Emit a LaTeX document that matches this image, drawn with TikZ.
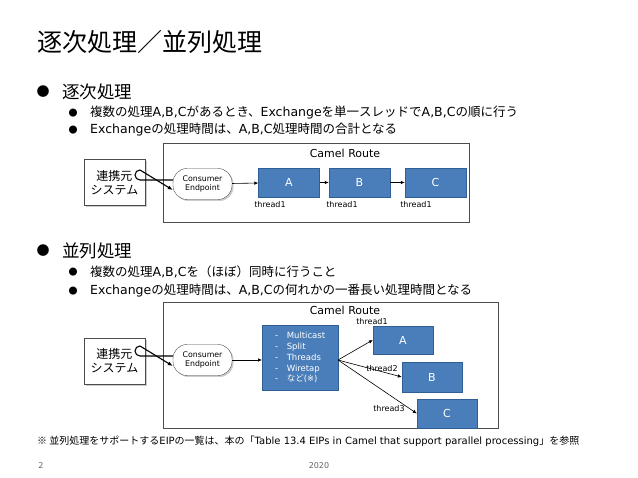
\documentclass[tikz,border=0pt]{standalone}
\usepackage{fontspec}
\setmainfont{DejaVu Sans}
\newfontfamily\jp{Noto Sans CJK JP}
\usetikzlibrary{arrows.meta,shadows}
\definecolor{bl}{HTML}{4A7EBB}
\definecolor{bld}{HTML}{2F5F95}
\begin{document}
\begin{tikzpicture}[x=1pt,y=-1pt,
 route/.style={draw=black!70,fill=white,line width=0.6pt},
 sys/.style={draw=black!70,fill=white,minimum width=61pt,minimum height=46pt,drop shadow={shadow xshift=2pt,shadow yshift=-2pt,opacity=0.4},align=center,font=\jp\fontsize{12}{14}\selectfont,inner sep=0pt},
 ep/.style={draw=black!70,fill=white,rounded corners=14pt,minimum width=59pt,minimum height=31pt,align=center,font=\fontsize{7.8}{9}\selectfont,inner sep=0pt,drop shadow={shadow xshift=1.5pt,shadow yshift=-1.5pt,opacity=0.4}},
 proc/.style={draw=bld,fill=bl,text=white,minimum width=61pt,minimum height=29pt,font=\fontsize{11}{13}\selectfont,inner sep=0pt},
 lbl/.style={font=\fontsize{8}{10}\selectfont,inner sep=0pt},
 arr/.style={-{Latex[length=4pt,width=3.5pt]},line width=0.6pt},
 bul/.style={font=\jp\fontsize{9}{9}\selectfont,inner sep=0pt},
 t1/.style={anchor=west,font=\jp\fontsize{17.5}{20}\selectfont,inner sep=0pt},
 t2/.style={anchor=west,font=\fontsize{12.5}{14}\selectfont,inner sep=0pt}]
\useasboundingbox[fill=white] (0,0) rectangle (638,478);
\node[anchor=west,font=\jp\fontsize{25}{28}\selectfont,inner sep=0pt] (title) at (37,42) {逐次処理／並列処理};
% section 1
\node[bul,font=\jp\fontsize{13}{13}\selectfont] (b1) at (43,92) {●};
\node[t1] (s1) at (62,92) {逐次処理};
\node[bul] (b11) at (73,113) {●};
\node[t2] (s11) at (90,113) {{\jp 複数の処理}A,B,C{\jp があるとき、}Exchange{\jp を単一スレッドで}A,B,C{\jp の順に行う}};
\node[bul] (b12) at (73,130) {●};
\node[t2] (s12) at (90,130) {Exchange{\jp の処理時間は、}A,B,C{\jp 処理時間の合計となる}};
\draw[route] (163,143) rectangle (469,222);
\node[font=\fontsize{11}{13}\selectfont,inner sep=0pt] (cr1) at (345,153) {Camel Route};
\node[sys] (sysA) at (114.5,182.5) {連携元\\システム};
\node[ep] (epA) at (202.5,184) {Consumer\\Endpoint};
\node[proc] (A1) at (289,182.5) {A};
\node[proc] (B1) at (359.5,182.5) {B};
\node[proc] (C1) at (435.5,182.5) {C};
\node[lbl] at (270,205) {thread1};
\node[lbl] at (342,205) {thread1};
\node[lbl] at (416,205) {thread1};
\draw[line width=1.1pt] (epA.west|-0,180) -- (140,180) arc[start angle=90,end angle=270,radius=5] coordinate (l1);
\draw[line width=1.1pt,-{Latex[length=5pt,width=4pt]}] (l1) -- (epA.west|-0,190);
\draw[arr] (epA) -- (A1);
\draw[arr] (A1) -- (B1);
\draw[arr] (B1) -- (C1);
% section 2
\node[bul,font=\jp\fontsize{13}{13}\selectfont] (b2) at (43,251) {●};
\node[t1] (s2) at (62,251) {並列処理};
\node[bul] (b21) at (73,272) {●};
\node[t2] (s21) at (90,272) {{\jp 複数の処理}A,B,C{\jp を（ほぼ）同時に行うこと}};
\node[bul] (b22) at (73,291) {●};
\node[t2] (s22) at (90,291) {Exchange{\jp の処理時間は、}A,B,C{\jp の何れかの一番長い処理時間となる}};
\draw[route] (163,302) rectangle (498,428);
\node[font=\fontsize{11}{13}\selectfont,inner sep=0pt] (cr2) at (345,310) {Camel Route};
\node[sys] (sysB) at (114.5,361) {連携元\\システム};
\node[ep] (epB) at (202.5,360) {Consumer\\Endpoint};
\node[draw=bld,fill=bl,text=white,minimum width=76pt,minimum height=65pt,inner sep=0pt,anchor=north west,font=\fontsize{8.5}{10.8}\selectfont,align=left] (M) at (262,325)
 {-\quad Multicast\\-\quad Split\\-\quad Threads\\-\quad Wiretap\\-\quad {\jp など}(※)};
\node[proc,minimum width=60pt,minimum height=28pt] (A2) at (403,340) {A};
\node[proc,minimum width=60pt,minimum height=30pt] (B2) at (432,377) {B};
\node[proc,minimum width=60pt,minimum height=29pt] (C2) at (447,413.5) {C};
\node[lbl] at (372,322) {thread1};
\node[lbl] at (382,369) {thread2};
\node[lbl] at (389,409) {thread3};
\draw[line width=1.1pt] (epB.west|-0,356) -- (140,356) arc[start angle=90,end angle=270,radius=5] coordinate (l2);
\draw[line width=1.1pt,-{Latex[length=5pt,width=4pt]}] (l2) -- (epB.west|-0,366);
\draw[arr] (epB) -- (M.west|-epB);
\coordinate (mo) at (338,360);
\draw[arr] (mo) -- (A2.west);
\draw[arr] (mo) -- (B2.west);
\draw[arr] (mo) -- (C2.west);
% footer
\node[anchor=west,font=\fontsize{10}{12}\selectfont,inner sep=0pt] (fn) at (37,441) {{\jp ※ 並列処理をサポートする}EIP{\jp の一覧は、本の「}Table 13.4 EIPs in Camel that support parallel processing{\jp 」を参照}};
\node[font=\fontsize{8}{10}\selectfont,text=black!60,inner sep=0pt] (pg) at (41,466) {2};
\node[font=\fontsize{8}{10}\selectfont,text=black!60,inner sep=0pt] (yr) at (319,466) {2020};
\end{tikzpicture}
\end{document}
